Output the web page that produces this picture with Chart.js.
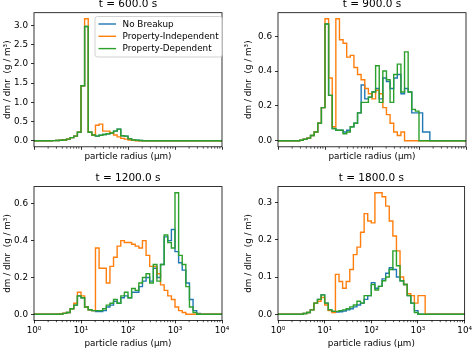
<!DOCTYPE html>
<html>
<head>
<meta charset="utf-8">
<script src="https://cdn.jsdelivr.net/npm/chart.js@4.4.1/dist/chart.umd.min.js"></script>
<style>
  body { margin: 0; background: #fff; }
  #page { position: relative; width: 474px; height: 348px; overflow: hidden; background: #fff; }
  canvas { position: absolute; }
</style>
</head>
<body>
<div id="page">
  <canvas id="c600" width="237" height="170" style="left:0;top:0"></canvas>
  <canvas id="c900" width="237" height="170" style="left:237px;top:0"></canvas>
  <canvas id="c1200" width="237" height="180" style="left:0;top:170px"></canvas>
  <canvas id="c1800" width="237" height="180" style="left:237px;top:170px"></canvas>
</div>
<script>
// ---- data ----
const seriesNames = ['No Breakup', 'Property-Independent', 'Property-Dependent'];
const panelTitles = ['t = 600.0 s', 't = 900.0 s', 't = 1200.0 s', 't = 1800.0 s'];

// radius bins: 13 per decade from 1 to 1e4 um (52 bins)
const binsPerDecade = 13;
const binCount = 52;

const xTickValues = [1, 10, 100, 1000, 10000];
const xTickLabels = ['10⁰', '10¹', '10²', '10³', '10⁴'];
const yTicks600 = [0, 0.5, 1, 1.5, 2, 2.5, 3];
const yTicks900 = [0, 0.2, 0.4, 0.6];
const yTicks1200 = [0, 0.2, 0.4, 0.6];
const yTicks1800 = [0, 0.1, 0.2, 0.3];

// one row per decade (13 bins)
const t600NoBreakup = [
  0, 0, 0, 0, 0, 0.002, 0.005, 0.01, 0.02, 0.04, 0.08, 0.12, 0.22,
  1.43, 2.97, 0.22, 0.15, 0.12, 0.14, 0.16, 0.18, 0.2, 0.25, 0.30, 0.13, 0.12,
  0.05, 0.02, 0.01, 0.005, 0, 0, 0, 0, 0, 0, 0, 0, 0,
  0, 0, 0, 0, 0, 0, 0, 0, 0, 0, 0, 0, 0
];
const t600Independent = [
  0, 0, 0, 0, 0, 0.002, 0.005, 0.01, 0.02, 0.04, 0.08, 0.12, 0.22,
  1.43, 3.17, 0.22, 0.15, 0.40, 0.43, 0.25, 0.25, 0.21, 0.15, 0.10, 0.06, 0.04,
  0.02, 0.01, 0, 0, 0, 0, 0, 0, 0, 0, 0, 0, 0,
  0, 0, 0, 0, 0, 0, 0, 0, 0, 0, 0, 0, 0
];
const t600Dependent = [
  0, 0, 0, 0, 0, 0.002, 0.005, 0.01, 0.02, 0.04, 0.08, 0.12, 0.22,
  1.43, 2.97, 0.22, 0.15, 0.12, 0.14, 0.16, 0.18, 0.2, 0.25, 0.30, 0.13, 0.12,
  0.05, 0.02, 0.01, 0.005, 0, 0, 0, 0, 0, 0, 0, 0, 0,
  0, 0, 0, 0, 0, 0, 0, 0, 0, 0, 0, 0, 0
];

const t900NoBreakup = [
  0, 0, 0, 0, 0, 0, 0.003, 0.008, 0.015, 0.03, 0.05, 0.10, 0.19,
  0.67, 0.26, 0.07, 0.06, 0.06, 0.05, 0.06, 0.08, 0.10, 0.16, 0.32, 0.24, 0.25,
  0.28, 0.30, 0.24, 0.36, 0.34, 0.30, 0.36, 0.38, 0.27, 0.30, 0.28, 0.16, 0.16,
  0.16, 0.05, 0.05, 0, 0, 0, 0, 0, 0, 0, 0, 0, 0
];
const t900Independent = [
  0, 0, 0, 0, 0, 0, 0.003, 0.008, 0.015, 0.03, 0.05, 0.10, 0.19,
  0.70, 0.36, 0.08, 0.70, 0.58, 0.56, 0.48, 0.49, 0.42, 0.38, 0.35, 0.30, 0.27,
  0.24, 0.29, 0.27, 0.19, 0.15, 0.10, 0.05, 0.03, 0.05, 0, 0, 0, 0,
  0, 0, 0, 0, 0, 0, 0, 0, 0, 0, 0, 0, 0
];
const t900Dependent = [
  0, 0, 0, 0, 0, 0, 0.003, 0.008, 0.015, 0.03, 0.05, 0.10, 0.19,
  0.67, 0.26, 0.07, 0.06, 0.06, 0.04, 0.05, 0.08, 0.10, 0.16, 0.22, 0.22, 0.25,
  0.28, 0.43, 0.22, 0.40, 0.35, 0.22, 0.38, 0.44, 0.28, 0.51, 0.28, 0.18, 0.17,
  0, 0, 0, 0, 0, 0, 0, 0, 0, 0, 0, 0, 0
];

const t1200NoBreakup = [
  0, 0, 0, 0, 0, 0, 0, 0.002, 0.005, 0.01, 0.03, 0.05, 0.10,
  0.09, 0.04, 0.025, 0.02, 0.015, 0.015, 0.02, 0.04, 0.05, 0.07, 0.06, 0.09, 0.10,
  0.09, 0.12, 0.12, 0.15, 0.18, 0.20, 0.18, 0.25, 0.20, 0.27, 0.42, 0.40, 0.46,
  0.34, 0.28, 0.24, 0.17, 0.08, 0.02, 0.005, 0, 0, 0, 0, 0, 0
];
const t1200Independent = [
  0, 0, 0, 0, 0, 0, 0, 0.003, 0.006, 0.01, 0.03, 0.06, 0.12,
  0.10, 0.04, 0.025, 0.02, 0.36, 0.25, 0.25, 0.17, 0.26, 0.31, 0.37, 0.40, 0.39,
  0.39, 0.38, 0.37, 0.36, 0.40, 0.32, 0.26, 0.26, 0.22, 0.16, 0.13, 0.10, 0.08,
  0.04, 0.02, 0.01, 0, 0, 0, 0, 0, 0, 0, 0, 0, 0
];
const t1200Dependent = [
  0, 0, 0, 0, 0, 0, 0, 0.002, 0.005, 0.01, 0.03, 0.05, 0.10,
  0.09, 0.04, 0.025, 0.02, 0.02, 0.02, 0.03, 0.05, 0.06, 0.08, 0.06, 0.10, 0.12,
  0.09, 0.14, 0.13, 0.17, 0.20, 0.22, 0.17, 0.27, 0.18, 0.27, 0.43, 0.39, 0.36,
  0.66, 0.32, 0.27, 0.15, 0.04, 0.01, 0, 0, 0, 0, 0, 0, 0
];

const t1800NoBreakup = [
  0, 0, 0, 0, 0, 0, 0, 0.002, 0.005, 0.012, 0.03, 0.04, 0.052,
  0.03, 0.012, 0.008, 0.006, 0.007, 0.009, 0.012, 0.015, 0.02, 0.025, 0.03, 0.04, 0.05,
  0.085, 0.07, 0.075, 0.095, 0.11, 0.125, 0.12, 0.10, 0.09, 0.08, 0.05, 0.03, 0.01,
  0, 0, 0, 0, 0, 0, 0, 0, 0, 0, 0, 0, 0
];
const t1800Independent = [
  0, 0, 0, 0, 0, 0, 0, 0.002, 0.005, 0.012, 0.03, 0.035, 0.045,
  0.025, 0.01, 0.005, 0.107, 0.088, 0.07, 0.088, 0.12, 0.16, 0.18, 0.22, 0.27, 0.25,
  0.245, 0.326, 0.326, 0.315, 0.29, 0.25, 0.21, 0.17, 0.10, 0.08, 0.055, 0.05, 0.03,
  0.05, 0.05, 0, 0, 0, 0, 0, 0, 0, 0, 0, 0, 0
];
const t1800Dependent = [
  0, 0, 0, 0, 0, 0, 0, 0.002, 0.005, 0.012, 0.03, 0.04, 0.052,
  0.03, 0.012, 0.008, 0.008, 0.01, 0.012, 0.015, 0.02, 0.025, 0.035, 0.03, 0.05, 0.05,
  0.08, 0.065, 0.075, 0.09, 0.10, 0.12, 0.17, 0.13, 0.09, 0.08, 0.05, 0.03, 0.005,
  0, 0, 0, 0, 0, 0, 0, 0, 0, 0, 0, 0, 0
];

// ---- drawing ----
const seriesColors = ['#1f77b4', '#ff7f0e', '#2ca02c'];
const fontFamily = '"DejaVu Sans", sans-serif';
const labelSize = 8.8;
Chart.defaults.font.family = fontFamily;
Chart.defaults.color = '#000';

const binEdges = [];
for (let i = 0; i <= binCount; i++) binEdges.push(Math.pow(10, i / binsPerDecade));

// minor ticks of the log axis (2..9 in each decade)
const minorTicks = [];
for (let d = 0; d < 4; d++) {
  for (let k = 2; k <= 9; k++) minorTicks.push(k * Math.pow(10, d));
}

function stepPoints(values) {
  const pts = values.map((v, i) => ({ x: binEdges[i], y: v }));
  pts.push({ x: binEdges[values.length], y: values[values.length - 1] });
  return pts;
}

function roundRect(ctx, x, y, w, h, r) {
  ctx.beginPath();
  ctx.moveTo(x + r, y);
  ctx.arcTo(x + w, y, x + w, y + h, r);
  ctx.arcTo(x + w, y + h, x, y + h, r);
  ctx.arcTo(x, y + h, x, y, r);
  ctx.arcTo(x, y, x + w, y, r);
  ctx.closePath();
}

const panelDecor = {
  id: 'panelDecor',
  afterDatasetsDraw(chart, args, opts) {
    const { ctx, chartArea: a } = chart;
    const xs = chart.scales.x;
    ctx.save();

    // minor ticks
    ctx.strokeStyle = '#000';
    ctx.lineWidth = 0.7;
    ctx.beginPath();
    minorTicks.forEach(v => {
      const px = xs.getPixelForValue(v);
      ctx.moveTo(px, a.bottom);
      ctx.lineTo(px, a.bottom + 1.8);
    });
    ctx.stroke();

    // frame
    ctx.lineWidth = 0.8;
    ctx.strokeRect(a.left, a.top, a.right - a.left, a.bottom - a.top);

    // title
    ctx.fillStyle = '#000';
    ctx.font = '10.5px ' + fontFamily;
    ctx.textAlign = 'center';
    ctx.textBaseline = 'alphabetic';
    ctx.fillText(opts.title, (a.left + a.right) / 2, a.top - 5.3);

    // legend
    if (opts.legend) {
      ctx.font = labelSize + 'px ' + fontFamily;
      const pad = 3.5, handleLen = 17.6, gap = 6.5, rowGap = 12.3;
      const textW = Math.max(...seriesNames.map(n => ctx.measureText(n).width));
      const boxL = 95, boxT = 16.5;
      const boxW = pad + handleLen + gap + textW + pad;
      const boxH = 40.5;
      roundRect(ctx, boxL, boxT, boxW, boxH, 2.5);
      ctx.fillStyle = 'rgba(255,255,255,0.8)';
      ctx.fill();
      ctx.strokeStyle = '#cccccc';
      ctx.lineWidth = 0.9;
      ctx.stroke();
      ctx.textAlign = 'left';
      ctx.textBaseline = 'middle';
      seriesNames.forEach((name, k) => {
        const cy = boxT + 7.5 + k * rowGap;
        ctx.strokeStyle = seriesColors[k];
        ctx.lineWidth = 1.4;
        ctx.beginPath();
        ctx.moveTo(boxL + pad, cy);
        ctx.lineTo(boxL + pad + handleLen, cy);
        ctx.stroke();
        ctx.fillStyle = '#000';
        ctx.fillText(name, boxL + pad + handleLen + gap, cy + 0.5);
      });
    }
    ctx.restore();
  }
};

const panels = [
  { id: 'c600', title: panelTitles[0], series: [t600NoBreakup, t600Independent, t600Dependent],
    yTicks: yTicks600, showX: false, legend: true, area: [34, 12.7, 222, 146.8], yTitlePad: 2.2, xTitlePad: 8.0 },
  { id: 'c900', title: panelTitles[1], series: [t900NoBreakup, t900Independent, t900Dependent],
    yTicks: yTicks900, showX: false, legend: false, area: [41, 12.7, 229, 146.8], yTitlePad: 6.2, xTitlePad: 8.0 },
  { id: 'c1200', title: panelTitles[2], series: [t1200NoBreakup, t1200Independent, t1200Dependent],
    yTicks: yTicks1200, showX: true, legend: false, area: [34, 16.6, 222, 150.4], yTitlePad: 2.2, xTitlePad: 1.2 },
  { id: 'c1800', title: panelTitles[3], series: [t1800NoBreakup, t1800Independent, t1800Dependent],
    yTicks: yTicks1800, showX: true, legend: false, area: [41, 16.6, 229, 150.4], yTitlePad: 6.2, xTitlePad: 1.2 }
];

panels.forEach(p => {
  const canvas = document.getElementById(p.id);
  const W = canvas.width, H = canvas.height;
  const [L, T, R, B] = p.area;
  const ymax = Math.max(...p.series.flat());
  const tickFont = { size: labelSize, family: fontFamily };

  new Chart(canvas, {
    type: 'line',
    data: {
      datasets: p.series.map((vals, k) => ({
        label: seriesNames[k],
        data: stepPoints(vals),
        borderColor: seriesColors[k],
        borderWidth: 1.4,
        pointRadius: 0,
        fill: false,
        stepped: true,
        order: 2 - k   // green on top, like matplotlib
      }))
    },
    options: {
      responsive: false,
      animation: false,
      events: [],
      layout: { padding: { left: 0, top: T, right: W - R, bottom: 0 } },
      plugins: {
        legend: { display: false },
        tooltip: { enabled: false },
        panelDecor: { title: p.title, legend: p.legend }
      },
      scales: {
        x: {
          type: 'logarithmic',
          min: 1,
          max: 10000,
          afterBuildTicks: s => { s.ticks = xTickValues.map(v => ({ value: v })); },
          afterFit: s => { s.height = H - B; },
          border: { display: false },
          grid: { drawOnChartArea: false, drawTicks: true, tickLength: 3, color: '#000', lineWidth: 0.8 },
          ticks: {
            display: p.showX,
            autoSkip: false,
            maxRotation: 0,
            padding: 2,
            font: tickFont,
            color: '#000',
            callback: v => xTickLabels[xTickValues.indexOf(v)]
          },
          title: {
            display: true,
            text: 'particle radius (μm)',
            font: tickFont,
            color: '#000',
            padding: { top: 0, bottom: p.xTitlePad }
          }
        },
        y: {
          type: 'linear',
          min: -0.05 * ymax,
          max: 1.05 * ymax,
          afterBuildTicks: s => { s.ticks = p.yTicks.map(v => ({ value: v })); },
          afterFit: s => { s.width = L; },
          border: { display: false },
          grid: { drawOnChartArea: false, drawTicks: true, tickLength: 3, color: '#000', lineWidth: 0.8 },
          ticks: {
            padding: 3,
            font: tickFont,
            color: '#000',
            callback: v => v.toFixed(1)
          },
          title: {
            display: true,
            text: 'dm / dlnr  (g / m³)',
            font: tickFont,
            color: '#000',
            padding: { top: p.yTitlePad, bottom: 0 }
          }
        }
      }
    },
    plugins: [panelDecor]
  });
});
</script>
</body>
</html>
